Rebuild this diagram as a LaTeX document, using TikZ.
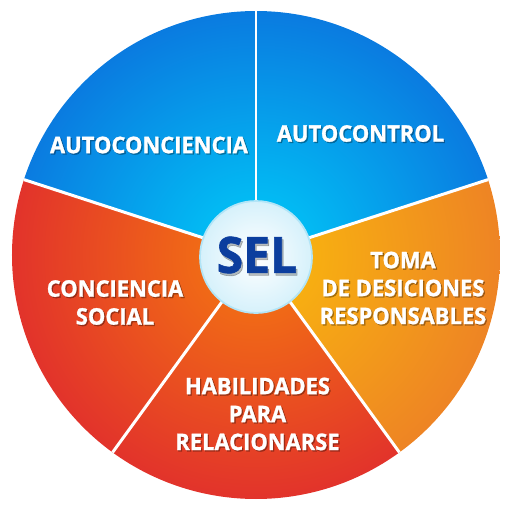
\documentclass[tikz,border=0pt]{standalone}
\usepackage{fontspec}
\newfontfamily\selfont[FakeStretch=0.96, BoldFeatures={FakeBold=1.2}]{Open Sans}
\usetikzlibrary{positioning}
\definecolor{selCyan}{HTML}{00CDF9}
\definecolor{selBlue}{HTML}{0A7BE0}
\definecolor{selGold}{HTML}{FABB0C}
\definecolor{selAmber}{HTML}{EE8424}
\definecolor{selOrange}{HTML}{F57A10}
\definecolor{selRed}{HTML}{E2332B}
\definecolor{selNavy}{HTML}{0B3E9E}
\definecolor{selIce}{HTML}{B2E5F7}
\definecolor{selFrost}{HTML}{D6F1FB}
\tikzset{
  divider/.style={white, line width=1.7pt},
  lbl/.style={text=white, align=center, inner sep=0pt,
              font=\fontsize{13}{15.9}\selfont\bfseries},
  hub/.style={circle, minimum size=2.24cm, inner sep=0pt, draw=selIce,
              line width=1pt, inner color=white, outer color=selFrost},
}
\newcommand{\seclabel}[3]{%
  \node[lbl, text=black, text opacity=0.3] at ([shift={(1.3,-1.3)}]#2) {#3};
  \node[lbl] (#1) at (#2) {#3};}

\begin{document}
\begin{tikzpicture}[x=0.02cm, y=0.02cm]
  \useasboundingbox (-256,-257) rectangle (256,255);
  \foreach \a/\ci/\co in {18/selCyan/selBlue, 90/selCyan/selBlue,
      -54/selGold/selAmber, 162/selOrange/selRed, 234/selOrange/selRed}{
    \begin{scope}
      \clip (0,0) -- (\a:244) arc[start angle=\a, delta angle=72, radius=244] -- cycle;
      \shade[inner color=\ci, outer color=\co] (0,0) circle (244);
    \end{scope}
  }
  \foreach \a in {18,90,162,234,306}
    \draw[divider] (0,0) -- (\a:244);
  \node[hub] (sel) at (0,-2) {};
  \node[font=\fontsize{28.5}{30}\selfont\bfseries, text=black, text opacity=0.25]
    at (2.5,-2.5) {SEL};
  \node[font=\fontsize{28.5}{30}\selfont\bfseries, text=selNavy] (selText) at (1,0) {SEL};
  \seclabel{autoconc}{-107,110}{AUTOCONCIENCIA}
  \seclabel{autocont}{104.5,121.5}{AUTOCONTROL}
  \seclabel{toma}{147,-33}{TOMA\\DE DESICIONES\\RESPONSABLES}
  \seclabel{social}{-141,-47.5}{CONCIENCIA\\SOCIAL}
  \seclabel{habil}{1.5,-159}{HABILIDADES\\PARA\\RELACIONARSE}
\end{tikzpicture}
\end{document}
